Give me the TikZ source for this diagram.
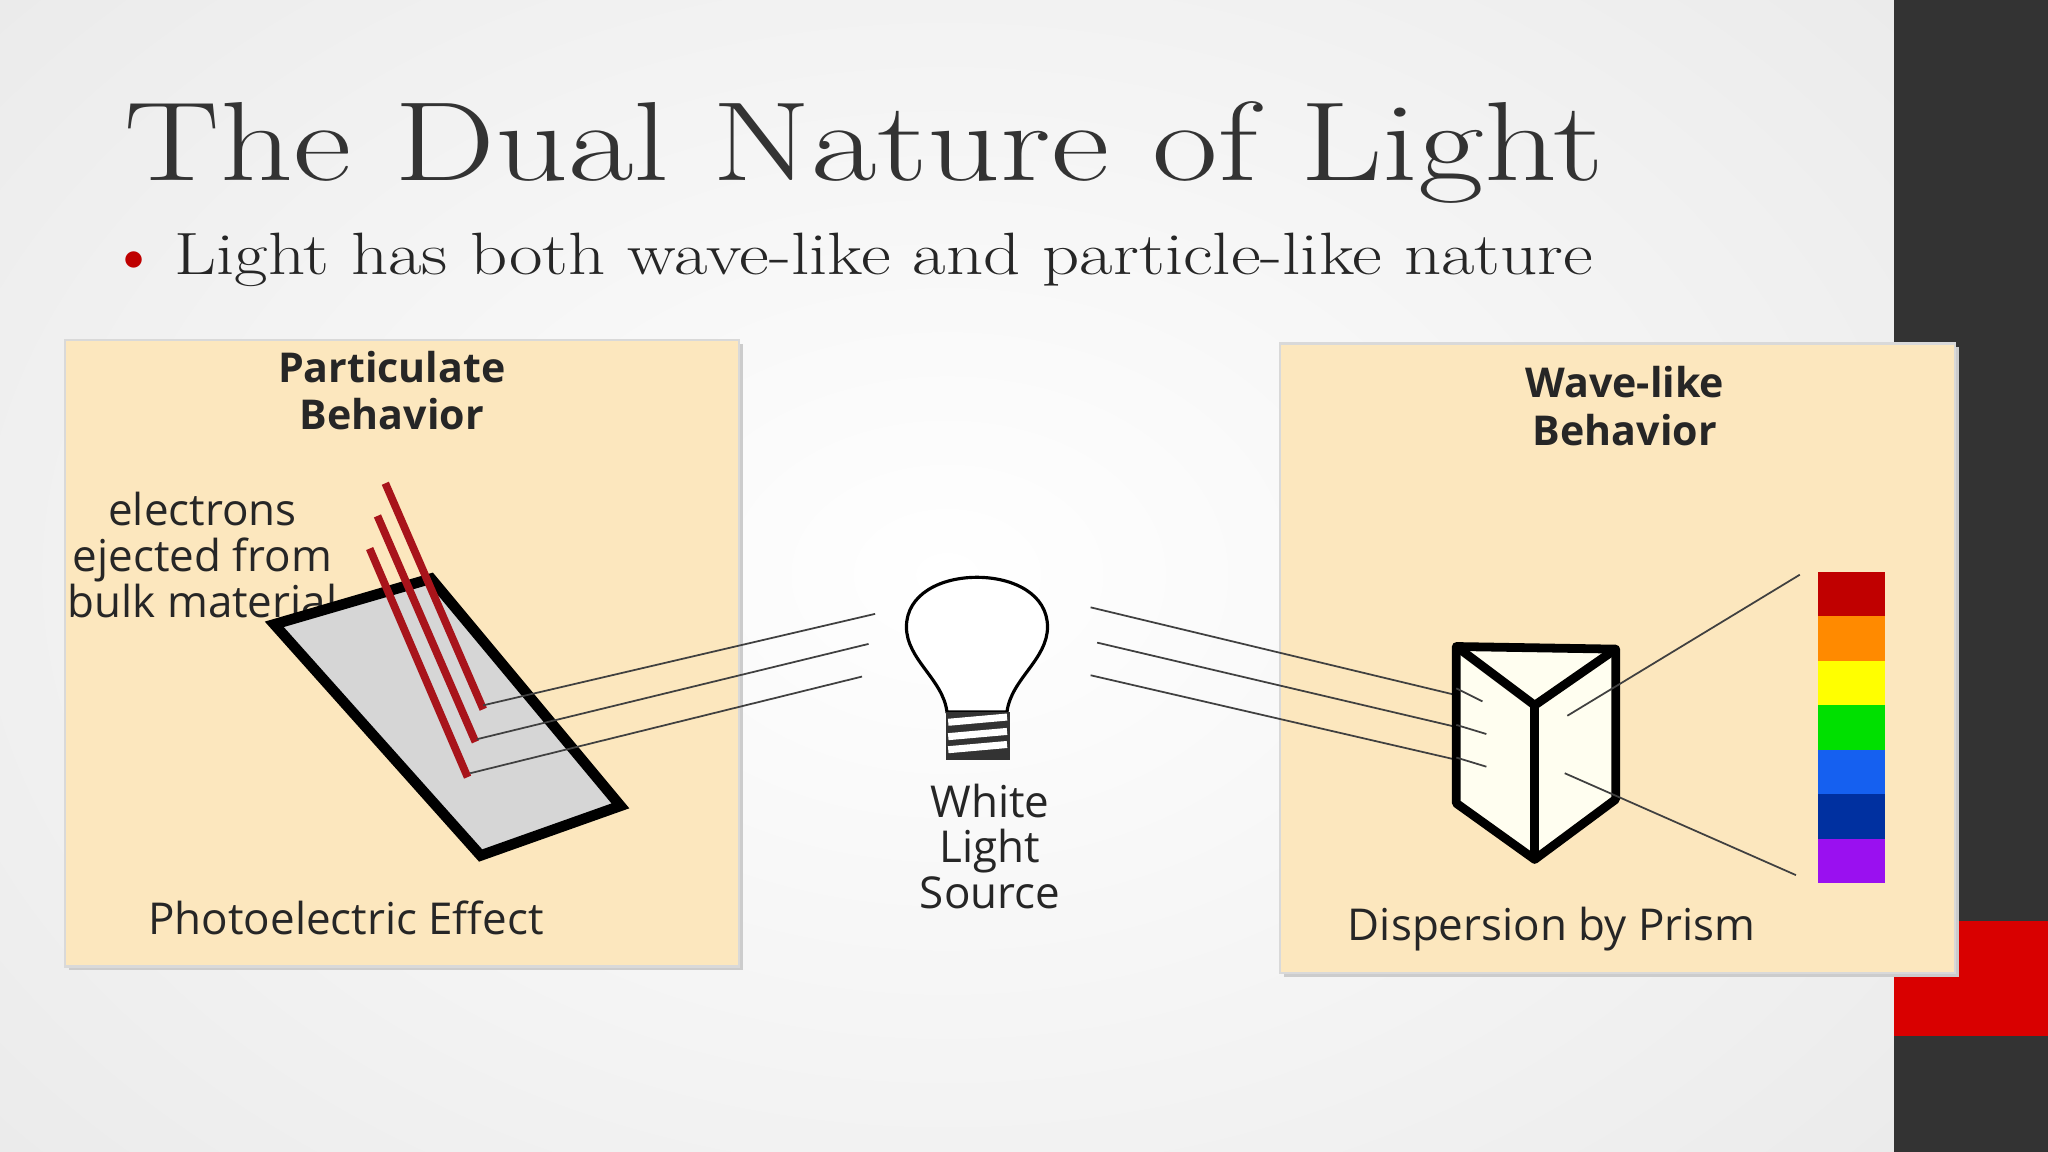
\documentclass[tikz,border=0pt]{standalone}
\usepackage{fontspec}
\newfontfamily\lab{Open Sans}
\begin{document}
\begin{tikzpicture}[x=0.013061cm,y=-0.013061cm,
  panel/.style={fill=tanbg,draw=black!15,line width=0.6pt},
  ray/.style={draw=black!75,line width=0.5pt},
  ered/.style={draw=eredc,line width=2.2pt},
  lbl/.style={font=\lab\fontsize{12.5}{13}\selectfont,align=center,text=black!85},
  hd/.style={font=\lab\bfseries\fontsize{11.7}{13.5}\selectfont,align=center,text=black!85}]
\definecolor{tanbg}{HTML}{FCE7BE}
\definecolor{eredc}{HTML}{A8141B}
\useasboundingbox (0,0) rectangle (1568,882);
\fill[black!8] (0,0) rectangle (1450,882);
\shade[inner color=white,outer color=black!8] (-250,-250) rectangle (1700,1130);
\fill[black!80] (1450,0) rectangle (1568,882);
\fill[red!85!black] (1450,705) rectangle (1568,793);
% title
\node[anchor=base west,inner sep=0,text=black!80,font=\fontsize{32}{34}\selectfont] (title) at (95,138) {\scalebox{1.27}[1]{The Dual Nature of Light}};
\node[anchor=base west,inner sep=0,text=black!85,font=\fontsize{17}{20}\selectfont] (bul) at (133,210) {\scalebox{1.22}[1]{Light has both wave-like and particle-like nature}};
\node[text=red!75!black,font=\fontsize{12}{12}\selectfont] (dot) at (103,200) {$\bullet$};
% panels
\fill[black!20] (53,263) rectangle (569,743);
\path[panel] (50,260) rectangle (566,740);
\fill[black!20] (983,266) rectangle (1500,748);
\path[panel] (980,263) rectangle (1497,745);
\node[hd] (ph) at (300,299) {Particulate\\Behavior};
\node[hd] (wh) at (1244,311) {Wave-like\\Behavior};
\node[lbl] (el) at (155,425) {electrons\\ejected from\\bulk material};
% plate
\draw[fill=black!16,line width=3pt,line join=miter] (210,478) -- (330,443) -- (475,617) -- (368,655) -- cycle;
\draw[ered] (295,370) -- (370,543);
\draw[ered] (289,395) -- (364,568);
\draw[ered] (283,420) -- (358,595);
\coordinate (p1) at (370,540); \coordinate (p2) at (365,566); \coordinate (p3) at (360,592);
\coordinate (b1) at (670,470); \coordinate (b2) at (665,493); \coordinate (b3) at (660,518);
\draw[ray] (b1) -- (p1); \draw[ray] (b2) -- (p2); \draw[ray] (b3) -- (p3);
% bulb
\draw[fill=white,line width=0.9pt] (725,545) .. controls (722,520) and (694,505) .. (694,480)
  .. controls (694,455) and (720,442) .. (748,442) .. controls (776,442) and (802,455) .. (802,480)
  .. controls (802,505) and (774,520) .. (771,545) -- cycle;
\fill[black!80] (724,545) rectangle (773,582);
\foreach \y in {553,564,574}{\draw[white,line width=2pt] (726,\y) -- (771,\y-4);}
\node[lbl] (ws) at (758,648) {White\\Light\\Source};
% right rays
\coordinate (c1) at (835,465); \coordinate (c2) at (840,492); \coordinate (c3) at (835,517);
\coordinate (q1) at (1135,537); \coordinate (q2) at (1138,562); \coordinate (q3) at (1138,587);
\draw[ray] (c1) -- (q1); \draw[ray] (c2) -- (q2); \draw[ray] (c3) -- (q3);
% prism
\draw[fill=yellow!6,line width=2.5pt,line join=round] (1115,495) -- (1237,497) -- (1237,612) -- (1175,658) -- (1115,615) -- cycle;
\draw[line width=2.5pt] (1115,495) -- (1175,540) -- (1237,497);
\draw[line width=2.5pt] (1175,540) -- (1175,658);
\draw[ray] (1115,527) -- (q1); \draw[ray] (1115,555) -- (q2); \draw[ray] (1115,580) -- (q3);
\coordinate (d1) at (1200,548); \coordinate (d2) at (1198,592);
\coordinate (s1) at (1378,440); \coordinate (s2) at (1375,670);
\draw[ray] (d1) -- (s1); \draw[ray] (d2) -- (s2);
% spectrum
\foreach \c [count=\i from 0] in {C00000,FF8A00,FFFF00,00E000,1560F0,0030A0,9A10F0}{
  \definecolor{sc}{HTML}{\c}
  \fill[sc] (1392,438+34*\i) rectangle (1443,472+34*\i);}
\node[lbl] (pe) at (265,703) {Photoelectric Effect};
\node[lbl] (dp) at (1188,711) {Dispersion by Prism};
\end{tikzpicture}
\end{document}
